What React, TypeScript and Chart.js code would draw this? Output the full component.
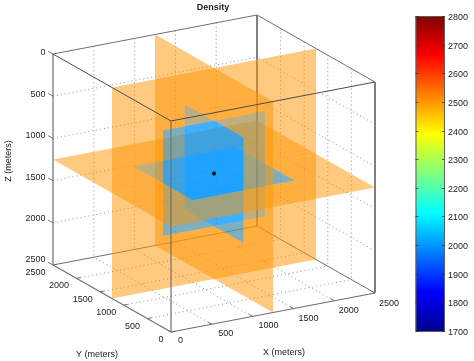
import React, { useEffect, useRef } from "react";
import Chart from "chart.js/auto";

// ---- data ----
const axisTicks = [0, 500, 1000, 1500, 2000, 2500];
const slicePosition = 1250;
const blockBounds = [625, 1875];
const sourcePoint = [1250, 1250, 1250];
const outerDensity = 2500;
const blockDensity = 2000;
const colorbarRange = [1700, 2800];
const colormapValues = [1700, 1837.5, 2112.5, 2387.5, 2662.5, 2800];
const colormapColors = ["#00008f", "#0000ff", "#00ffff", "#ffff00", "#ff0000", "#800000"];

// ---- view of the 3D axes on the page ----
const AXIS_MAX = 2500;
const ORIGIN = [171, 121];
const EX = [204, -39];
const EY = [-118, -67];
const EZ = [0, 211];
const project = (x: number, y: number, z: number) => ({
  x: ORIGIN[0] + (EX[0] * x + EY[0] * y + EZ[0] * z) / AXIS_MAX,
  y: ORIGIN[1] + (EX[1] * x + EY[1] * y + EZ[1] * z) / AXIS_MAX,
});

const FONT = "9px 'Liberation Sans', Arial, sans-serif";
const BOLD = "bold 9px 'Liberation Sans', Arial, sans-serif";
const TEXT = "#222222";
const GRID = "rgba(105,105,105,0.75)";
const BOX = "#6f6f6f";

const densityColor = (d: number) =>
  d === outerDensity ? "rgba(255,150,0,0.5)" : d === blockDensity ? "rgba(0,150,255,0.5)" : "#000";

const line = (pts: number[][], color: string, width = 1, dash: number[] = []) => ({
  data: pts.map((p) => project(p[0], p[1], p[2])),
  borderColor: color,
  borderWidth: width,
  borderDash: dash,
  pointRadius: 0,
  fill: false,
  tension: 0,
});

const poly = (pts: number[][], color: string) => ({
  data: pts.map((p) => project(p[0], p[1], p[2])),
  backgroundColor: color,
  borderColor: "rgba(0,0,0,0)",
  borderWidth: 0,
  pointRadius: 0,
  fill: "shape",
  tension: 0,
});

function gridLines() {
  const out: any[] = [];
  const dash = [1, 3];
  const M = AXIS_MAX;
  for (const t of axisTicks) {
    if (t !== 0 && t !== M) {
      out.push(line([[t, 0, M], [t, M, M]], GRID, 1, dash));
      out.push(line([[0, t, M], [M, t, M]], GRID, 1, dash));
      out.push(line([[t, M, 0], [t, M, M]], GRID, 1, dash));
      out.push(line([[0, M, t], [M, M, t]], GRID, 1, dash));
      out.push(line([[M, t, 0], [M, t, M]], GRID, 1, dash));
      out.push(line([[M, 0, t], [M, M, t]], GRID, 1, dash));
    }
  }
  return out;
}

// One quarter of a slice: (axis fixed at slicePosition), u and v running from the centre outward.
function quarter(axis: number, su: number, sv: number) {
  const c = slicePosition;
  const uOuter = su < 0 ? 0 : AXIS_MAX;
  const vOuter = sv < 0 ? 0 : AXIS_MAX;
  const uInner = su < 0 ? blockBounds[0] : blockBounds[1];
  const vInner = sv < 0 ? blockBounds[0] : blockBounds[1];
  const at = (u: number, v: number) => {
    const p = [0, 0, 0];
    p[axis] = c;
    p[(axis + 1) % 3] = u;
    p[(axis + 2) % 3] = v;
    return p;
  };
  return [
    poly(
      [at(uInner, c), at(uOuter, c), at(uOuter, vOuter), at(c, vOuter), at(c, vInner), at(uInner, vInner)],
      densityColor(outerDensity)
    ),
    poly([at(c, c), at(uInner, c), at(uInner, vInner), at(c, vInner)], densityColor(blockDensity)),
  ];
}

// Painter's order: eight octants from far to near (depth grows with x, y, z).
// Each quarter of a slice is painted once, right after the octant behind it.
function sliceLayers() {
  const depth = [0.4, 0.7, 0.3];
  const signs = [-1, 1];
  const octants: number[][] = [];
  for (const a of signs) for (const b of signs) for (const c of signs) octants.push([a, b, c]);
  octants.sort(
    (p, q) =>
      q[0] * depth[0] + q[1] * depth[1] + q[2] * depth[2] - (p[0] * depth[0] + p[1] * depth[1] + p[2] * depth[2])
  );
  const out: any[] = [];
  for (const s of octants) {
    for (const axis of [0, 1, 2]) {
      if (s[axis] > 0) out.push(...quarter(axis, s[(axis + 1) % 3], s[(axis + 2) % 3]));
    }
  }
  return out;
}

function boxBack() {
  const M = AXIS_MAX;
  return [
    line([[M, M, 0], [M, M, M]], BOX),
    line([[0, M, M], [M, M, M]], BOX),
    line([[M, 0, M], [M, M, M]], BOX),
  ];
}

function boxFront() {
  const M = AXIS_MAX;
  const darker = "#4f4a44";
  const out = [
    line([[0, M, 0], [M, M, 0]], BOX),
    line([[M, M, 0], [M, 0, 0]], BOX),
    line([[0, M, 0], [0, 0, 0]], darker),
    line([[0, 0, 0], [M, 0, 0]], darker),
    line([[0, 0, 0], [0, 0, M]], BOX, 1.2),
    line([[0, M, 0], [0, M, M]], BOX, 1.2),
    line([[M, 0, 0], [M, 0, M]], BOX),
    line([[0, 0, M], [M, 0, M]], BOX, 1.2),
    line([[0, 0, M], [0, M, M]], BOX, 1.2),
  ];
  const len = 5.5;
  const yLen = Math.hypot(EY[0], EY[1]);
  const xLen = Math.hypot(EX[0], EX[1]);
  const seg = (a: any, dx: number, dy: number) => ({
    ...line([], BOX),
    data: [a, { x: a.x + dx, y: a.y + dy }],
  });
  for (const t of axisTicks) {
    out.push(seg(project(0, M, t), (EY[0] / yLen) * len, (EY[1] / yLen) * len));
    out.push(seg(project(t, 0, M), (EY[0] / yLen) * 4, (EY[1] / yLen) * 4));
    out.push(seg(project(0, t, M), (EX[0] / xLen) * 4, (EX[1] / xLen) * 4));
  }
  return out;
}

function marker() {
  return [
    {
      data: [project(sourcePoint[0], sourcePoint[1], sourcePoint[2])],
      borderColor: "#05050f",
      backgroundColor: "#05050f",
      pointRadius: 2,
      pointBorderWidth: 0,
      showLine: false,
      fill: false,
    },
  ];
}

const textPlugin = {
  id: "axisText",
  afterDraw(chart: any) {
    const ctx = chart.ctx;
    const sx = chart.scales.x;
    const sy = chart.scales.y;
    const put = (s: string, x: number, y: number, align: CanvasTextAlign, font = FONT, rot = 0) => {
      ctx.save();
      ctx.translate(sx.getPixelForValue(x), sy.getPixelForValue(y));
      ctx.rotate(rot);
      ctx.font = font;
      ctx.fillStyle = TEXT;
      ctx.textAlign = align;
      ctx.textBaseline = "middle";
      ctx.fillText(s, 0, 0);
      ctx.restore();
    };
    axisTicks.forEach((t, k) => {
      const z = project(0, AXIS_MAX, t);
      put(String(t), 45.5, z.y - 1 - 0.85 * k, "right");
      const y = project(0, t, AXIS_MAX);
      put(String(t), y.x - 7.5, y.y + 7.5, "right");
      const x = project(t, 0, AXIS_MAX);
      put(String(t), x.x + 7 - 0.6 * k, x.y + 9 + 0.3 * k, "left");
    });
    put("Density", 213, 7.5, "center", BOLD);
    put("Z (meters)", 9, 161, "center", FONT, -Math.PI / 2);
    put("Y (meters)", 97, 355, "center");
    put("X (meters)", 284, 353, "center");
  },
};

const colorbarPlugin = {
  id: "colorbarFrame",
  afterDraw(chart: any) {
    const { ctx, chartArea: a, scales } = chart;
    ctx.save();
    ctx.strokeStyle = "#5f5f5f";
    ctx.lineWidth = 1;
    ctx.strokeRect(a.left + 0.5, a.top + 0.5, a.right - a.left - 1, a.bottom - a.top);
    ctx.strokeStyle = "rgba(50,50,50,0.7)";
    for (const t of scales.y.ticks) {
      const y = Math.round(scales.y.getPixelForValue(t.value)) + 0.5;
      ctx.beginPath();
      ctx.moveTo(a.left, y);
      ctx.lineTo(a.left + 3, y);
      ctx.moveTo(a.right - 3, y);
      ctx.lineTo(a.right, y);
      ctx.stroke();
    }
    ctx.restore();
  },
};

export default function App() {
  const mainRef = useRef<HTMLCanvasElement>(null);
  const barRef = useRef<HTMLCanvasElement>(null);

  useEffect(() => {
    document.body.style.margin = "0";
    const paint = [...gridLines(), ...boxBack(), ...sliceLayers(), ...boxFront(), ...marker()];
    const main = new Chart(mainRef.current as HTMLCanvasElement, {
      type: "line",
      data: { datasets: paint.reverse() as any },
      options: {
        animation: false,
        responsive: false,
        events: [],
        parsing: true,
        layout: { padding: 0, autoPadding: false },
        plugins: { legend: { display: false }, tooltip: { enabled: false } },
        scales: {
          x: { type: "linear", min: 0, max: 474, display: false },
          y: { type: "linear", min: 0, max: 361, reverse: true, display: false },
        },
      },
      plugins: [textPlugin],
    } as any);

    const bar = new Chart(barRef.current as HTMLCanvasElement, {
      type: "bar",
      data: {
        labels: ["Density"],
        datasets: [
          {
            data: [colorbarRange],
            barPercentage: 1,
            categoryPercentage: 1,
            backgroundColor: (c: any) => {
              const area = c.chart.chartArea;
              if (!area) return "#000";
              const g = c.chart.ctx.createLinearGradient(0, area.bottom, 0, area.top);
              colormapValues.forEach((v, i) =>
                g.addColorStop((v - colorbarRange[0]) / (colorbarRange[1] - colorbarRange[0]), colormapColors[i])
              );
              return g;
            },
          },
        ],
      } as any,
      options: {
        animation: false,
        responsive: false,
        events: [],
        layout: { padding: { left: 15.5, top: 16, bottom: 30, right: 0 }, autoPadding: false },
        plugins: { legend: { display: false }, tooltip: { enabled: false } },
        scales: {
          x: { display: false },
          y: {
            position: "right",
            min: colorbarRange[0],
            max: colorbarRange[1],
            afterFit: (s: any) => {
              s.width = 29;
            },
            grid: { display: false, drawTicks: false },
            border: { display: false },
            ticks: {
              stepSize: 100,
              padding: 3,
              labelOffset: 1.5,
              color: TEXT,
              font: { size: 9, family: "'Liberation Sans', Arial, sans-serif" },
              callback: (v: any) => String(v),
            },
          },
        },
      },
      plugins: [colorbarPlugin],
    } as any);

    return () => {
      main.destroy();
      bar.destroy();
    };
  }, []);

  const soft = { position: "absolute", left: 0, top: 0, filter: "blur(0.3px)" } as React.CSSProperties;
  return (
    <div style={{ position: "relative", width: 474, height: 361, background: "#fff" }}>
      <canvas ref={mainRef} width={474} height={361} style={soft} />
      <canvas ref={barRef} width={74} height={361} style={{ ...soft, left: 400 }} />
    </div>
  );
}
